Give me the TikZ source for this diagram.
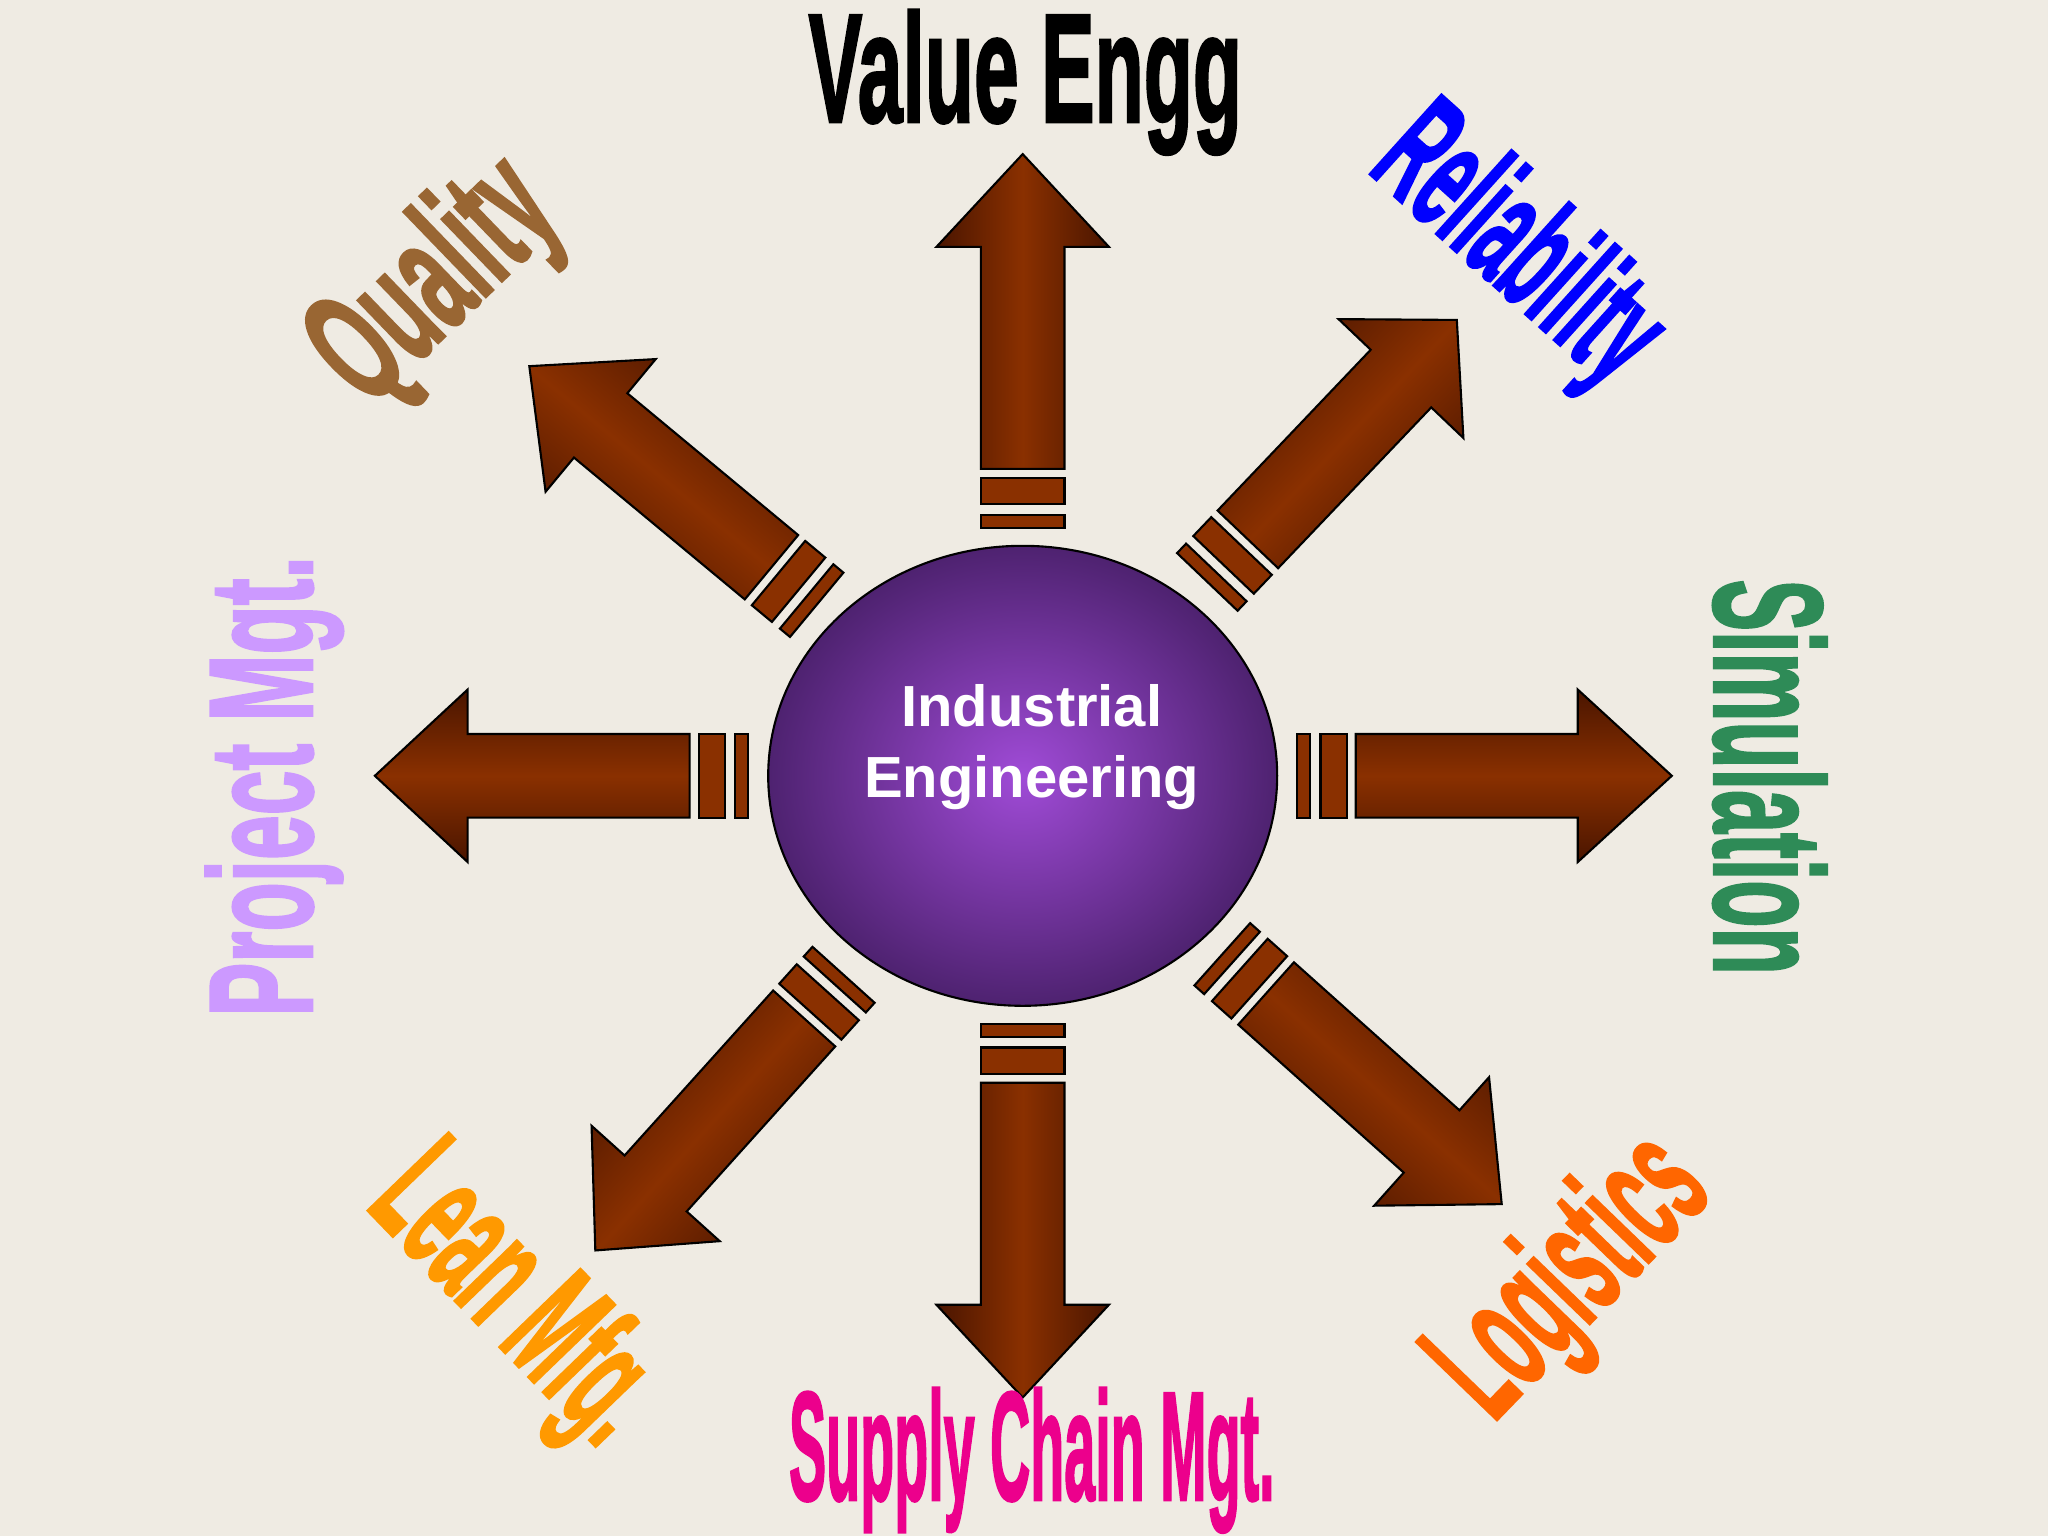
\documentclass[tikz,border=0pt]{standalone}
\usepackage{fontspec}
\setmainfont{Liberation Sans}
\usetikzlibrary{shadings,shapes.geometric}
\definecolor{bg}{HTML}{EFEBE3}
\definecolor{brA}{HTML}{8A3000}
\definecolor{brB}{HTML}{4A1500}
\newcommand{\ieArrow}[3]{%
\begin{scope}[shift={(783,582)},rotate=#1]
\path[draw=black,line width=0.6pt,shading=axis,top color=brB,bottom color=brB,middle color=brA,shading angle=#1]
 (#2+45,-32) -- (#2+215,-32) -- (#2+215,-66) -- (#3,0) -- (#2+215,66) -- (#2+215,32) -- (#2+45,32) -- cycle;
\path[draw=black,line width=0.6pt,fill=brA] (#2+18,-32) rectangle (#2+38,32);
\path[draw=black,line width=0.6pt,fill=brA] (#2,-32) rectangle (#2+10,32);
\end{scope}}
\tikzset{lab/.style={font=\bfseries\fontsize{44}{44}\selectfont\addfontfeature{FakeBold=2},inner sep=0pt}}
\begin{document}
\begin{tikzpicture}[x=0.01306cm,y=0.01306cm]
\fill[bg] (0,0) rectangle (1568,1176);
\useasboundingbox (0,0) rectangle (1568,1176);
\ieArrow{0}{210}{497}
\ieArrow{46.4}{205}{482}
\ieArrow{90}{190}{476}
\ieArrow{140.3}{205}{491}
\ieArrow{180}{210}{496}
\ieArrow{228}{205}{489}
\ieArrow{270}{190}{476}
\ieArrow{-41.8}{205}{492}
\node[ellipse,minimum width=5.09cm,minimum height=4.6cm,draw=black,line width=0.6pt,inner color={rgb,255:red,160;green,75;blue,215},outer color={rgb,255:red,78;green,34;blue,112},inner sep=0pt] (c) at (783,582) {};
\node[align=center,text=white,font=\bfseries\fontsize{16.5}{20}\selectfont] (t) at (790,604) {Industrial\\Engineering};
\node[lab,text=black] (ve) at (785,1113) {\scalebox{0.52}[1.0]{Value Engg}};
\node[lab,text=blue,rotate=-42] (re) at (1160,984) {\scalebox{0.45}[1.0]{Reliability}};
\node[lab,text={rgb,255:red,46;green,139;blue,87},rotate=-90] (si) at (1355,581) {\scalebox{0.5}[1.0]{Simulation}};
\node[lab,text={rgb,255:red,255;green,102;blue,0},rotate=46] (lo) at (1205,196) {\scalebox{0.47}[1.05]{Logistics}};
\node[lab,text=magenta] (sc) at (790,58) {\scalebox{0.36}[1.0]{Supply Chain Mgt.}};
\node[lab,text={rgb,255:red,255;green,153;blue,0},rotate=-46] (le) at (392,181) {\scalebox{0.47}[1.05]{Lean Mfg.}};
\node[lab,text={rgb,255:red,204;green,153;blue,255},rotate=90] (pm) at (210,574) {\scalebox{0.52}[0.95]{Project Mgt.}};
\node[lab,text={rgb,255:red,153;green,102;blue,51},rotate=44] (qu) at (335,958) {\scalebox{0.52}[1.05]{Quality}};
\end{tikzpicture}
\end{document}
